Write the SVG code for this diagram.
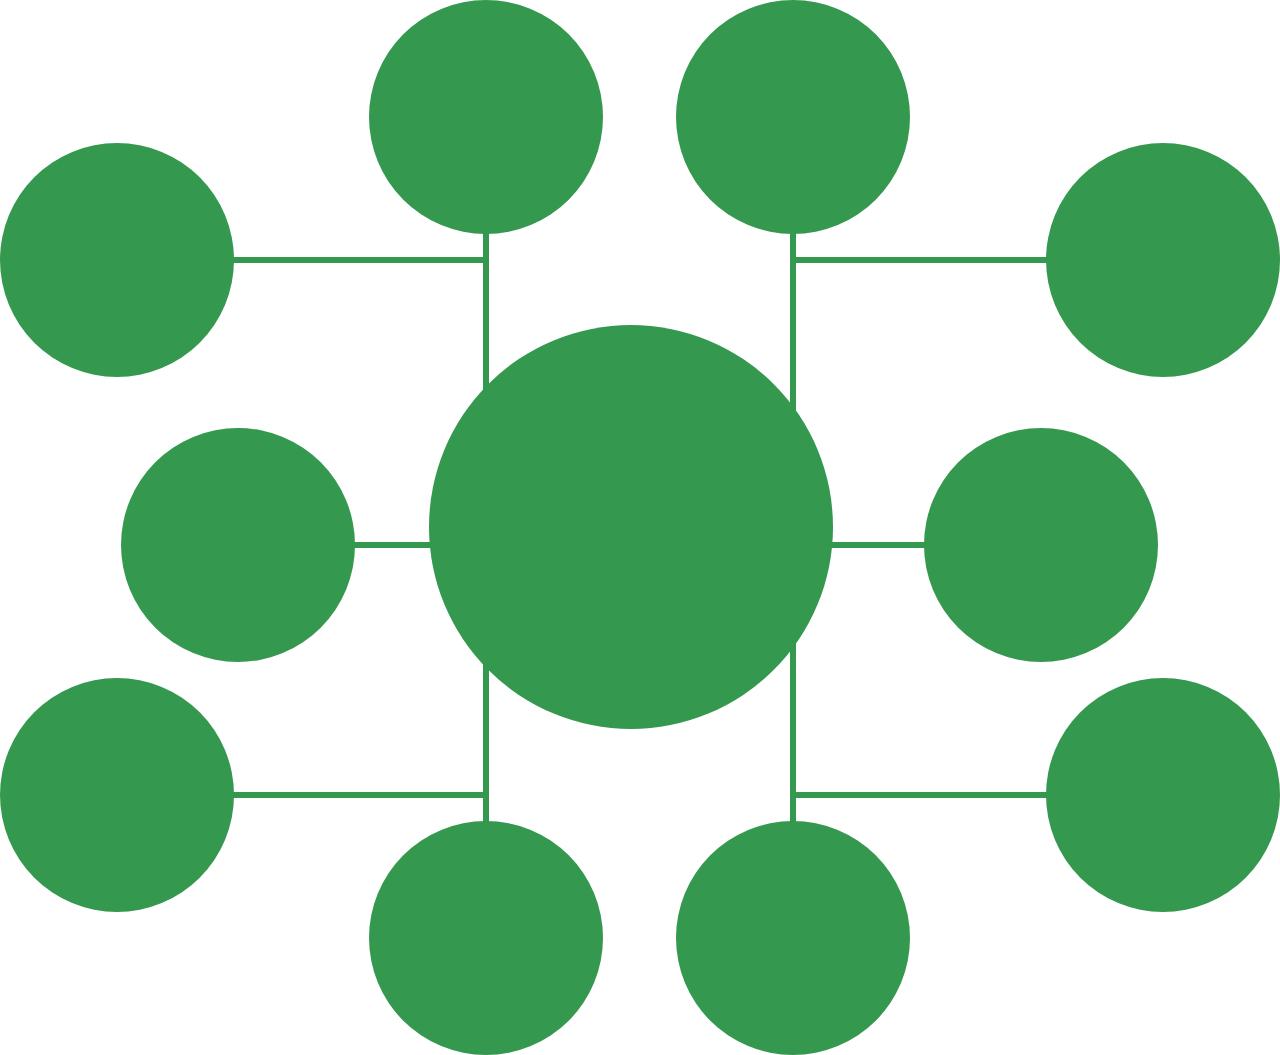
<svg xmlns="http://www.w3.org/2000/svg" width="1280" height="1055" viewBox="0 0 1280 1055">
<style>
.edge{fill:none;stroke:#34984f;stroke-width:6}
.node{fill:#34984f}
</style>
<rect width="1280" height="1055" fill="#ffffff"/>
<g id="connectors">
<path class="edge" d="M486 233 V822"/>
<path class="edge" d="M793 233 V822"/>
<path class="edge" d="M232 260 H486"/>
<path class="edge" d="M793 260 H1048"/>
<path class="edge" d="M232 795 H486"/>
<path class="edge" d="M793 795 H1048"/>
<path class="edge" d="M354 545 H432"/>
<path class="edge" d="M830 545 H926"/>
</g>
<g id="center"><circle class="node" cx="631" cy="527" r="202"/></g>
<g id="top-left"><circle class="node" cx="486" cy="117" r="117"/></g>
<g id="top-right"><circle class="node" cx="793" cy="117" r="117"/></g>
<g id="upper-left"><circle class="node" cx="117" cy="260" r="117"/></g>
<g id="upper-right"><circle class="node" cx="1163" cy="260" r="117"/></g>
<g id="mid-left"><circle class="node" cx="238" cy="545" r="117"/></g>
<g id="mid-right"><circle class="node" cx="1041" cy="545" r="117"/></g>
<g id="lower-left"><circle class="node" cx="117" cy="795" r="117"/></g>
<g id="lower-right"><circle class="node" cx="1163" cy="795" r="117"/></g>
<g id="bottom-left"><circle class="node" cx="486" cy="938" r="117"/></g>
<g id="bottom-right"><circle class="node" cx="793" cy="938" r="117"/></g>
</svg>
